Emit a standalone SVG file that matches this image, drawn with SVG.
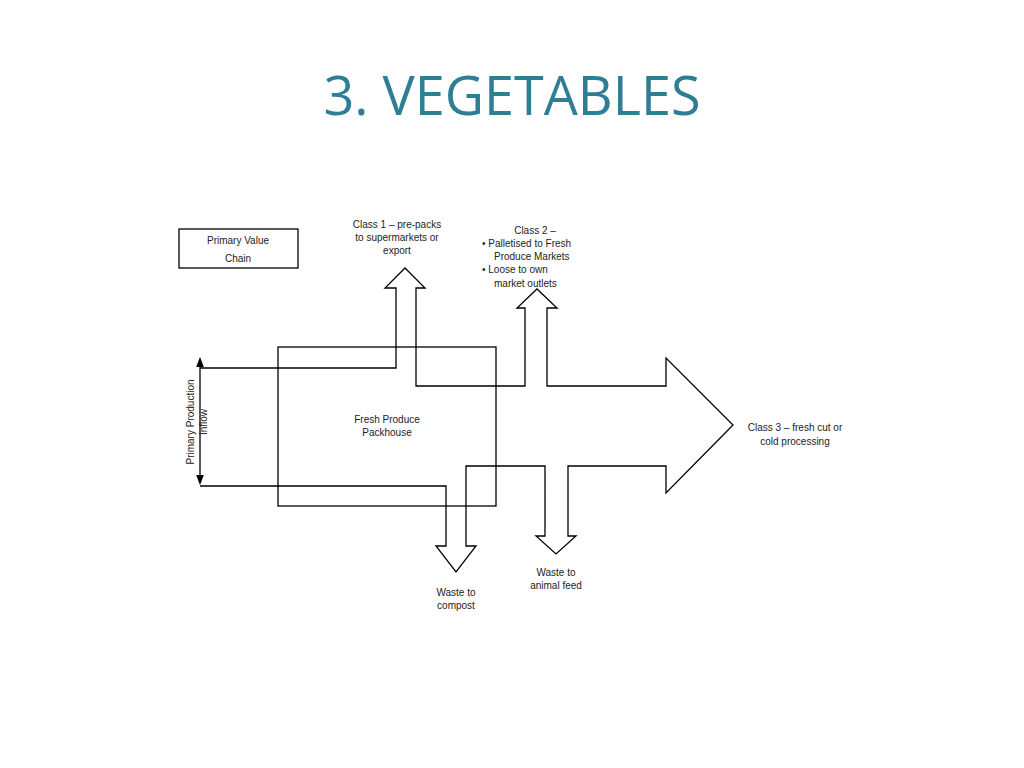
<svg xmlns="http://www.w3.org/2000/svg" width="1024" height="768" viewBox="0 0 1024 768">
<style>
.l{fill:none;stroke:#000;stroke-width:1.3}
.t{font-family:"Liberation Sans",Arial,sans-serif;font-size:10px;fill:#222}
</style>
<defs><marker id="a" markerWidth="8" markerHeight="8" refX="4" refY="4" orient="auto-start-reverse"><path d="M0,1 L8,4 L0,7Z" fill="#000"/></marker></defs>
<rect width="1024" height="768" fill="#fff"/>
<text x="512" y="115" text-anchor="middle" font-family="'Open Sans','Liberation Sans',sans-serif" font-size="54" fill="#2E7F96">3. VEGETABLES</text>
<g id="pvc"><rect x="179" y="229" width="119" height="39" class="l"/>
<text x="238" y="244" text-anchor="middle" class="t" font-size="14">Primary Value</text>
<text x="238" y="262" text-anchor="middle" class="t" font-size="14">Chain</text></g>
<g id="packhouse"><rect x="278" y="347" width="218" height="159" class="l"/>
<text x="387" y="423" text-anchor="middle" class="t">Fresh Produce</text>
<text x="387" y="436" text-anchor="middle" class="t">Packhouse</text></g>
<g id="connectors">
<path class="l" d="M200,368 H396 V288 H385 L405,268 L425,288 H416 V386 H525 V308 H517 L537,289 L557,308 H547 V386 H666 V358 L733,425 L666,493 V466 H568 V536 H576 L556,554 L536,536 H545 V466 H466 V546 H476 L456,572 L436,546 H446 V486 H200"/>
<line class="l" x1="200" y1="362" x2="200" y2="480" marker-start="url(#a)" marker-end="url(#a)"/>
</g>
<g id="inflow"><text class="t" transform="translate(194,422) rotate(-90)" text-anchor="middle">Primary Production</text>
<text class="t" transform="translate(207,422) rotate(-90)" text-anchor="middle">Inflow</text></g>
<g id="class1"><text x="397" y="228" text-anchor="middle" class="t">Class 1 – pre-packs</text>
<text x="397" y="241" text-anchor="middle" class="t">to supermarkets or</text>
<text x="397" y="254" text-anchor="middle" class="t">export</text></g>
<g id="class2"><text x="535" y="234" text-anchor="middle" class="t">Class 2 –</text>
<text x="482" y="247" class="t">•  Palletised to Fresh</text>
<text x="494" y="260" class="t">Produce Markets</text>
<text x="482" y="273" class="t">•  Loose to own</text>
<text x="494" y="287" class="t">market outlets</text></g>
<g id="class3"><text x="795" y="431" text-anchor="middle" class="t">Class 3 – fresh cut or</text>
<text x="795" y="445" text-anchor="middle" class="t">cold processing</text></g>
<g id="feed"><text x="556" y="576" text-anchor="middle" class="t">Waste to</text>
<text x="556" y="589" text-anchor="middle" class="t">animal feed</text></g>
<g id="compost"><text x="456" y="596" text-anchor="middle" class="t">Waste to</text>
<text x="456" y="609" text-anchor="middle" class="t">compost</text></g>
</svg>
